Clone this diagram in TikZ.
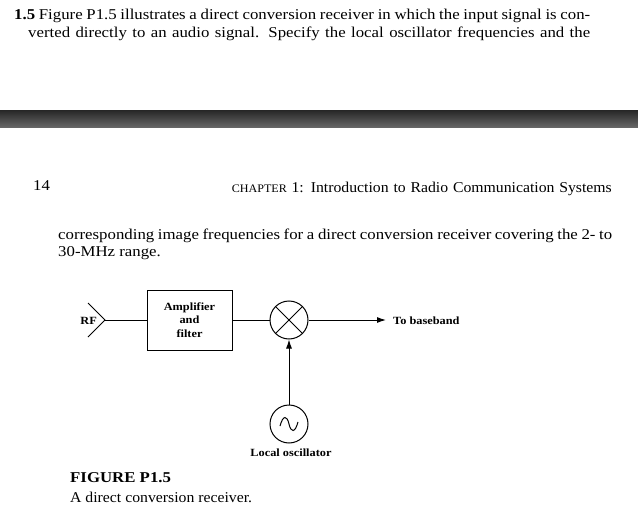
\documentclass[tikz,border=0pt]{standalone}
\usepackage{fontspec}
\setmainfont[FakeStretch=1.12]{Liberation Serif}
\newfontfamily\plainf{Liberation Serif}
\newfontfamily\midf[FakeStretch=1.05]{Liberation Serif}
\usetikzlibrary{arrows.meta}
\begin{document}
\begin{tikzpicture}[x=1pt,y=-1pt,
  body/.style={anchor=west,inner sep=0,font=\fontsize{15}{16}\selectfont},
  lab/.style={inner sep=0,font=\fontsize{11}{13.5}\selectfont\bfseries},
  wire/.style={line width=1pt},
  tip/.style={-{Latex[length=9pt,width=6pt]}}]
\useasboundingbox (0,0) rectangle (638,506);
\node[body] (t1) at (14,16) {\makebox[576pt][s]{\textbf{1.5} Figure P1.5 illustrates a direct conversion receiver in which the input signal is con-}};
\node[body] (t2) at (28,34) {\makebox[562pt][s]{verted directly to an audio signal. Specify the local oscillator frequencies and the}};
\shade[top color=black!85,bottom color=black!60] (0,110) rectangle (638,127);
\node[body] (pg) at (33,186) {14};
\node[body,anchor=east,font=\midf\fontsize{15}{16}\selectfont] (ch) at (612,189) {\makebox[380pt][s]{{\fontsize{11.5}{13}\selectfont CHAPTER} 1: Introduction to Radio Communication Systems}};
\node[body] (t3) at (58,236) {\makebox[554pt][s]{corresponding image frequencies for a direct conversion receiver covering the 2- to}};
\node[body] (t4) at (58,253) {30-MHz range.};
\node[lab,anchor=east] (rf) at (97,321) {RF};
\coordinate (ap) at (105,320);
\draw[wire] (88,303) -- (ap) -- (88,337);
\node[draw,line width=1pt,minimum width=85pt,minimum height=60pt,align=center,lab] (amp) at (189.5,320) {Amplifier\\and\\filter};
\node[draw,circle,line width=1pt,minimum size=38pt,inner sep=0] (mx) at (289,320) {};
\draw[wire] (mx.45) -- (mx.225) (mx.135) -- (mx.315);
\node[draw,circle,line width=1pt,minimum size=38pt,inner sep=0] (lo) at (289,424) {};
\draw[wire] (280,426) .. controls (283,415) and (287,415) .. (289,424) .. controls (291,433) and (295,433) .. (298,422);
\node[lab,anchor=west] (bb) at (393,321) {To baseband};
\node[lab] (lol) at (291,453) {Local oscillator};
\draw[wire] (ap) -- (amp.west);
\draw[wire] (amp.east) -- (mx.west);
\draw[wire,tip,shorten >=7pt] (mx.east) -- (mx.east -| bb.west);
\draw[wire,tip] (lo.north) -- (mx.south);
\node[body,font=\fontsize{15}{16}\selectfont\bfseries] (fg) at (70,478) {FIGURE P1.5};
\node[body,font=\midf\fontsize{15}{16}\selectfont] (cap) at (70,497) {A direct conversion receiver.};
\end{tikzpicture}
\end{document}
